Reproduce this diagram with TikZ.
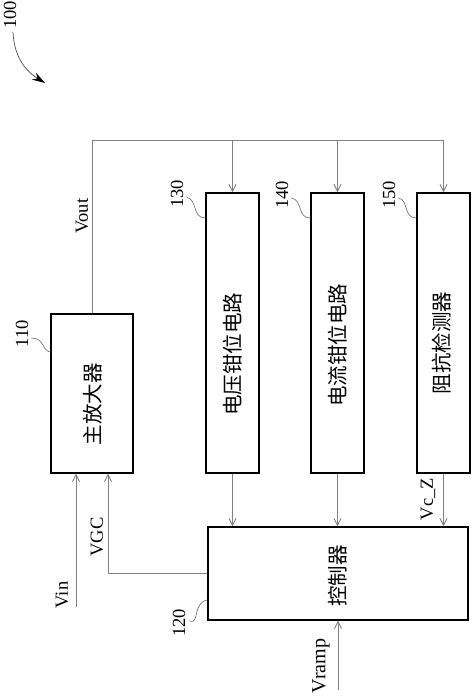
\documentclass[tikz,border=0pt]{standalone}
\usepackage{fontspec}
\setmainfont{Liberation Serif}
\newfontfamily\cjk{Noto Sans CJK SC}
\usetikzlibrary{arrows.meta}
\begin{document}
\begin{tikzpicture}[x=1pt,y=-1pt,
  box/.style={draw=black,line width=1.4pt,inner sep=0pt,minimum width=53,minimum height=280},
  cn/.style={font=\cjk\fontsize{20.5}{24}\selectfont,rotate=90,inner sep=0pt},
  conn/.style={draw=black!50,line width=0.9pt},
  arr/.style={conn,-{Straight Barb[length=7pt,width=7pt,line width=0.9pt]}},
  lab/.style={font=\fontsize{18.5}{20}\selectfont,rotate=90,inner sep=0pt},
  sq/.style={draw=black!60,line width=0.6pt}]
\useasboundingbox (0,0) rectangle (474,697);
\node[box,minimum width=82,minimum height=159] (amp) at (92,393.5) {};
\node[box] (vc) at (232.5,333) {};
\node[box] (ic) at (337.5,333) {};
\node[box] (zd) at (443.5,333) {};
\node[box,minimum width=260,minimum height=93] (ctrl) at (338,573.5) {};
\node[cn] (tamp) at (93,404) {主放大器};
\node[cn] (tvc) at (233,354) {电压钳位电路};
\node[cn] (tic) at (338,345) {电流钳位电路};
\node[cn] (tzd) at (442,343) {阻抗检测器};
\node[cn] (tctrl) at (338,576) {控制器};
% bus
\coordinate (bus) at (0,140);
\draw[conn] (amp.north) |- (bus -| zd.north);
\draw[arr] (bus -| vc.north) -- (vc.north);
\draw[arr] (bus -| ic.north) -- (ic.north);
\draw[arr] (bus -| zd.north) -- (zd.north);
\draw[arr] (vc.south) -- (vc.south |- ctrl.north);
\draw[arr] (ic.south) -- (ic.south |- ctrl.north);
\draw[arr] (zd.south) -- (zd.south |- ctrl.north);
\coordinate (vr) at (338,690);
\draw[arr] (vr) -- (vr |- ctrl.south);
\coordinate (vin) at (76,607);
\draw[arr] (vin) -- (vin |- amp.south);
\coordinate (vgcx) at (108,0);
\draw[arr] (ctrl.west) -| (vgcx |- amp.south);
% signal labels
\node[lab] (tvout) at (82,216) {Vout};
\node[lab] (tvin) at (62,595) {Vin};
\node[lab] (tvgc) at (97,537) {VGC};
\node[lab] (tvcz) at (428,499) {Vc\_Z};
\node[lab,font=\fontsize{20}{22}\selectfont] (tvramp) at (321,666) {Vramp};
% reference numbers
\node[lab] (n100) at (10,15) {100};
\node[lab] (n110) at (22,334) {110};
\node[lab] (n130) at (177,194) {130};
\node[lab] (n140) at (282,195) {140};
\node[lab] (n150) at (389,195) {150};
\node[lab] (n120) at (179,623) {120};
\coordinate (s110) at (51,352);
\draw[sq] (n110.south) ++(3,4) .. controls (45,338) and (42,352) .. (s110);
\draw[sq] (n130.south) ++(3,3) .. controls (198,200) and (192,218) .. (vc.west |- 0,218);
\draw[sq] (n140.south) ++(3,3) .. controls (303,200) and (297,218) .. (ic.west |- 0,218);
\draw[sq] (n150.south) ++(3,3) .. controls (409,200) and (403,218) .. (zd.west |- 0,218);
\draw[sq] (n120.south) ++(4,-2) .. controls (200,625) and (192,603) .. (ctrl.west |- 0,600);
% 100 arrow
\coordinate (a100) at (45,83);
\draw[line width=0.7pt,black!70,-{Stealth[length=13pt,width=8pt,black]}] (13,32) .. controls (14,55) and (24,70) .. (a100);
\end{tikzpicture}
\end{document}
